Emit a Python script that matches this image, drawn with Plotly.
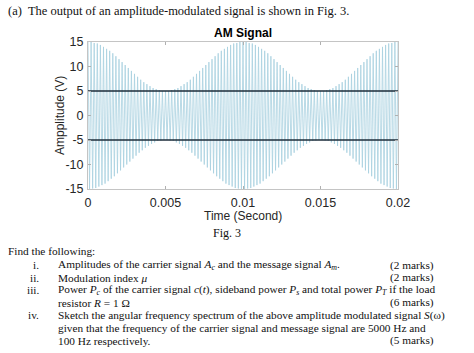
import plotly.graph_objects as go

# ---------------- data ----------------
# AM signal sampled at every half carrier period (carrier 5000 Hz -> 0.0001 s steps)
sample_step = 0.0001
signal_v = [
    15.0, -15.0, 15.0, -14.9, 14.8, -14.8, 14.7, -14.5, 14.4, -14.2,
    14.0, -13.9, 13.6, -13.4, 13.2, -12.9, 12.7, -12.4, 12.1, -11.8,
    11.5, -11.2, 10.9, -10.6, 10.3, -10.0, 9.7, -9.4, 9.1, -8.8,
    8.5, -8.2, 7.9, -7.6, 7.3, -7.1, 6.8, -6.6, 6.4, -6.2,
    6.0, -5.8, 5.6, -5.5, 5.4, -5.2, 5.2, -5.1, 5.0, -5.0,
    5.0, -5.0, 5.0, -5.1, 5.2, -5.2, 5.4, -5.5, 5.6, -5.8,
    6.0, -6.2, 6.4, -6.6, 6.8, -7.1, 7.3, -7.6, 7.9, -8.2,
    8.5, -8.8, 9.1, -9.4, 9.7, -10.0, 10.3, -10.6, 10.9, -11.2,
    11.5, -11.8, 12.1, -12.4, 12.7, -12.9, 13.2, -13.4, 13.6, -13.9,
    14.0, -14.2, 14.4, -14.5, 14.7, -14.8, 14.8, -14.9, 15.0, -15.0,
    15.0, -15.0, 15.0, -14.9, 14.8, -14.8, 14.7, -14.5, 14.4, -14.2,
    14.0, -13.9, 13.6, -13.4, 13.2, -12.9, 12.7, -12.4, 12.1, -11.8,
    11.5, -11.2, 10.9, -10.6, 10.3, -10.0, 9.7, -9.4, 9.1, -8.8,
    8.5, -8.2, 7.9, -7.6, 7.3, -7.1, 6.8, -6.6, 6.4, -6.2,
    6.0, -5.8, 5.6, -5.5, 5.4, -5.2, 5.2, -5.1, 5.0, -5.0,
    5.0, -5.0, 5.0, -5.1, 5.2, -5.2, 5.4, -5.5, 5.6, -5.8,
    6.0, -6.2, 6.4, -6.6, 6.8, -7.1, 7.3, -7.6, 7.9, -8.2,
    8.5, -8.8, 9.1, -9.4, 9.7, -10.0, 10.3, -10.6, 10.9, -11.2,
    11.5, -11.8, 12.1, -12.4, 12.7, -12.9, 13.2, -13.4, 13.6, -13.9,
    14.0, -14.2, 14.4, -14.5, 14.7, -14.8, 14.8, -14.9, 15.0, -15.0,
    15.0,
]

# horizontal reference lines at +/- 5 V
level_t = [0, 0.02]
level_upper = [5, 5]
level_lower = [-5, -5]

x_tickvals = [0, 0.005, 0.01, 0.015, 0.02]
x_ticktext = ["0", "0.005", "0.01", "0.015", "0.02"]
y_tickvals = [-15, -10, -5, 0, 5, 10, 15]
y_ticktext = ["-15", "-10", "-5", "0", "5", "10", "15"]

chart_title = "AM Signal"
x_title = "Time (Second)"
y_title = "Ampplitude (V)"
fig_caption = "Fig. 3"
intro_text = "(a)  The output of an amplitude-modulated signal is shown in Fig. 3."
find_text = "Find the following:"
item_labels = ["i.", "ii.", "iii.", "", "iv.", "", ""]
item_lines = [
    "Amplitudes of the carrier signal <i>A<sub>c</sub></i> and the message signal <i>A<sub>m</sub></i>.",
    "Modulation index <i>\u03bc</i>",
    "Power <i>P<sub>c</sub></i> of the carrier signal <i>c</i>(<i>t</i>), sideband power <i>P<sub>s</sub></i> and total power <i>P<sub>T</sub></i> if the load",
    "resistor <i>R</i> = 1 \u03a9",
    "Sketch the angular frequency spectrum of the above amplitude modulated signal <i>S</i>(\u03c9)",
    "given that the frequency of the carrier signal and message signal are 5000 Hz and",
    "100 Hz respectively.",
]
item_marks = ["(2 marks)", "(2 marks)", "", "(6 marks)", "", "", "(5 marks)"]

# ---------------- figure ----------------
W, H = 474, 353
ML, MR, MT, MB = 88, 76, 42, 164
PW, PH = W - ML - MR, H - MT - MB

def px(x):
    return (x - ML) / PW

def py(y):
    return (H - MB - y) / PH

fig = go.Figure()
fig.add_trace(go.Scatter(
    x0=0, dx=sample_step, y=signal_v, mode="lines",
    line=dict(color="#a8d0df", width=0.8), hoverinfo="skip", showlegend=False))
for lv in (level_upper, level_lower):
    fig.add_trace(go.Scatter(
        x=level_t, y=lv, mode="lines",
        line=dict(color="#1c2d3a", width=1.6), hoverinfo="skip", showlegend=False))

sans = "Liberation Sans, Arial, sans-serif"
serif = "Liberation Serif, Times New Roman, serif"
axis_common = dict(showline=True, linecolor="#c4c4c4", linewidth=1, mirror="ticks",
                   ticks="inside", ticklen=3, tickcolor="#b0b0b0", showgrid=False,
                   zeroline=False, tickfont=dict(family=sans, size=12.5, color="#262626"))

fig.update_layout(
    width=W, height=H, margin=dict(l=ML, r=MR, t=MT, b=MB, pad=0),
    paper_bgcolor="white", plot_bgcolor="white", showlegend=False,
    xaxis=dict(range=[0, 0.02], tickvals=x_tickvals, ticktext=x_ticktext,
               ticklabelstandoff=2, **axis_common),
    yaxis=dict(range=[-15, 15], tickvals=y_tickvals, ticktext=y_ticktext,
               ticklabelstandoff=1, **axis_common),
)

ann = []
def add(text, x, y, xanchor="left", font=None, textangle=0):
    ann.append(dict(text=text, x=px(x), y=py(y), xref="paper", yref="paper",
                    xanchor=xanchor, yanchor="middle", showarrow=False,
                    font=font, textangle=textangle))

tfont = dict(family=serif, size=11.3, color="#111111")
add(f"<b>{chart_title}</b>", 243, 33, "center", dict(family=sans, size=12, color="black"))
add(x_title, 243, 216, "center", dict(family=sans, size=12, color="#262626"))
add(y_title, 60, 116, "center", dict(family=sans, size=12, color="#262626"), -90)
add(fig_caption, 227, 233, "center", dict(family=serif, size=12, color="#111111"))
add(intro_text, 6, 11, "left", dict(family=serif, size=12.5, color="#111111"))
add(find_text, 6, 251, "left", tfont)

y0, dy = 265, 12.6
for i, (lab, line, mark) in enumerate(zip(item_labels, item_lines, item_marks)):
    yy = y0 + i * dy
    if lab:
        add(lab, 41, yy, "right", tfont)
    add(line, 56, yy, "left", tfont)
    if mark:
        add(mark, 436, yy, "right", tfont)

fig.update_layout(annotations=ann)
fig.write_html("out.html")
